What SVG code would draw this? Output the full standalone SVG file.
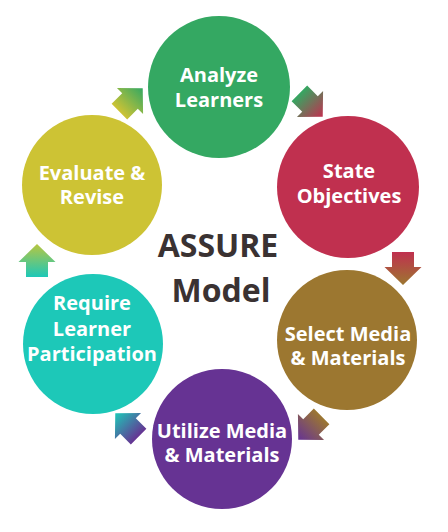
<svg xmlns="http://www.w3.org/2000/svg" width="448" height="532" viewBox="0 0 448 532">
<style>
.lbl{font-family:"Open Sans","Noto Sans",sans-serif;font-weight:700;font-size:20px;fill:#ffffff;text-anchor:middle}
.title{font-family:"Open Sans","Noto Sans",sans-serif;font-weight:700;font-size:32px;fill:#3a3232;text-anchor:middle}
</style>
<defs>
<path id="arr" d="M-18.5,0 L0,-18 L18.5,0 L11,0 L11,15 L-11,15 L-11,0 Z"/>
<linearGradient id="g1" x1="0" y1="0" x2="0" y2="1"><stop offset="0" stop-color="#34a862"/><stop offset="1" stop-color="#cdc334"/></linearGradient>
<linearGradient id="g2" x1="0" y1="0" x2="0" y2="1"><stop offset="0" stop-color="#c0304f"/><stop offset="1" stop-color="#34a862"/></linearGradient>
<linearGradient id="g3" x1="0" y1="0" x2="0" y2="1"><stop offset="0" stop-color="#9c7730"/><stop offset="1" stop-color="#c0304f"/></linearGradient>
<linearGradient id="g4" x1="0" y1="0" x2="0" y2="1"><stop offset="0" stop-color="#663393"/><stop offset="1" stop-color="#9c7730"/></linearGradient>
<linearGradient id="g5" x1="0" y1="0" x2="0" y2="1"><stop offset="0" stop-color="#1dc8b8"/><stop offset="1" stop-color="#663393"/></linearGradient>
<linearGradient id="g6" x1="0" y1="0" x2="0" y2="1"><stop offset="0" stop-color="#b8c640"/><stop offset="1" stop-color="#1dc8b8"/></linearGradient>
</defs>
<rect width="448" height="532" fill="#ffffff"/>
<g id="connectors">
<use href="#arr" fill="url(#g1)" transform="translate(130,101) rotate(45)"/>
<use href="#arr" fill="url(#g2)" transform="translate(310,104) rotate(135)"/>
<use href="#arr" fill="url(#g3)" transform="translate(403,267) rotate(180)"/>
<use href="#arr" fill="url(#g4)" transform="translate(311,427) rotate(225)"/>
<use href="#arr" fill="url(#g5)" transform="translate(128,426) rotate(315)"/>
<use href="#arr" fill="url(#g6)" transform="translate(37,262)"/>
</g>
<g id="analyze">
<circle cx="219" cy="87" r="71" fill="#34a862"/>
<text class="lbl" x="219" y="82">Analyze</text>
<text class="lbl" x="219" y="107">Learners</text>
</g>
<g id="state">
<circle cx="348" cy="187" r="71" fill="#c0304f"/>
<text class="lbl" x="349" y="178">State</text>
<text class="lbl" x="349" y="203">Objectives</text>
</g>
<g id="select">
<circle cx="347" cy="340" r="70" fill="#9c7730"/>
<text class="lbl" x="348" y="341">Select Media</text>
<text class="lbl" x="348" y="365">&amp; Materials</text>
</g>
<g id="utilize">
<circle cx="222" cy="439" r="70" fill="#663393"/>
<text class="lbl" x="222" y="438">Utilize Media</text>
<text class="lbl" x="222" y="462">&amp; Materials</text>
</g>
<g id="require">
<circle cx="93" cy="344" r="70" fill="#1dc8b8"/>
<text class="lbl" x="92" y="310">Require</text>
<text class="lbl" x="92" y="336">Learner</text>
<text class="lbl" x="92" y="361">Participation</text>
</g>
<g id="evaluate">
<circle cx="92" cy="185" r="70" fill="#cdc334"/>
<text class="lbl" x="92" y="180">Evaluate &amp;</text>
<text class="lbl" x="92" y="204">Revise</text>
</g>
<g id="title">
<text class="title" x="218" y="257">ASSURE</text>
<text class="title" x="221" y="302">Model</text>
</g>
</svg>
